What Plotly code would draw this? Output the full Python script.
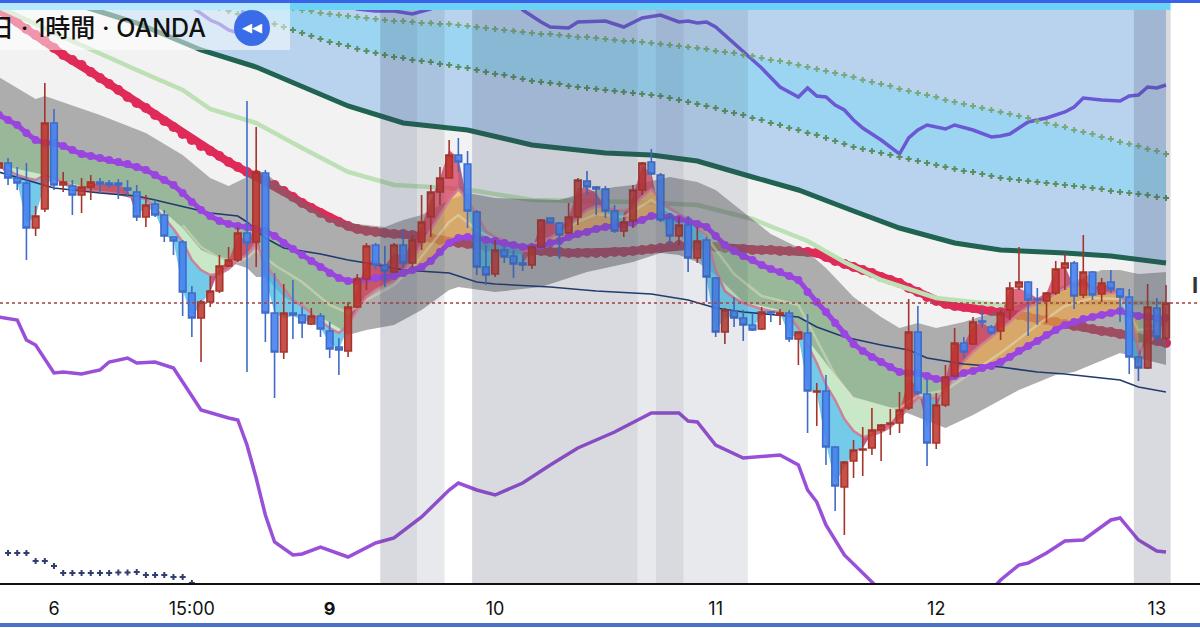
import plotly.graph_objects as go

# hourly bars, bar 0 is the "6" tick
bars = list(range(-6, 122))
tick_bars = [0, 15, 30, 48, 72, 96, 120]
tick_labels = ["6", "15:00", "<b>9</b>", "10", "11", "12", "13"]

bar_high = [470,470,461,465,422,545,519,456,448,450,453,450,448,449,448,443,433,428,418,391,388,342,328,352,373,381,401,527,501,458,355,344,348,321,320,315,306,290,326,354,385,385,382,385,398,393,433,443,461,488,490,477,418,383,388,381,378,373,383,409,410,406,425,450,457,442,442,423,411,443,466,479,455,415,411,412,401,391,351,320,331,318,315,321,317,319,318,296,314,245,253,182,167,188,201,220,204,219,236,329,322,249,235,263,300,291,311,318,303,318,346,381,347,340,336,367,375,367,393,357,350,358,340,339,272,344,330,343]
bar_open = [460,465,450,445,400,419,505,443,442,433,441,446,445,445,440,436,411,424,413,391,386,335,310,326,337,362,368,395,386,455,315,276,315,313,304,312,297,281,277,321,349,383,363,356,383,365,386,411,436,450,473,464,416,361,354,378,372,365,363,381,410,405,395,411,447,441,439,417,397,407,438,466,453,410,392,403,370,388,350,296,317,310,303,299,316,313,315,289,295,236,237,181,141,167,178,180,198,204,205,220,296,234,185,223,252,285,284,307,301,297,318,341,346,329,327,335,360,365,333,356,334,346,339,331,271,260,320,290]
bar_close = [465,450,445,400,412,505,443,446,433,441,446,444,443,443,438,411,423,413,392,387,336,310,326,337,362,368,395,385,456,315,276,315,313,305,312,299,279,278,321,349,382,363,357,383,365,388,406,436,450,473,466,417,361,353,378,371,364,363,381,408,405,393,411,448,441,439,417,397,406,438,465,454,408,392,403,370,387,351,296,318,310,303,298,316,315,315,289,296,237,237,181,142,166,178,179,198,203,205,218,296,235,185,223,251,285,276,306,306,295,315,340,346,328,328,335,359,365,332,356,333,345,339,331,271,260,321,291,325]
bar_low = [450,443,438,368,392,416,438,436,413,415,428,435,440,429,431,407,401,411,386,373,312,291,266,321,335,361,366,256,361,286,230,269,289,290,303,291,270,253,271,320,338,358,341,355,360,361,378,391,423,450,456,400,353,343,351,365,350,357,359,381,405,369,395,403,433,413,410,395,391,400,433,453,406,384,383,356,365,326,291,284,301,287,297,298,306,303,286,263,195,202,163,117,93,150,152,173,167,193,195,218,233,162,179,221,250,270,283,300,293,288,308,338,292,303,305,333,338,319,330,328,326,335,306,254,247,259,285,288]

# short average that the cloud is filled up to
fast_line = [463,452,446,405,412,445,448,445,436,440,444,445,444,443,439,412,422,415,393,388,338,311,324,336,360,367,392,388,400,350,315,310,312,308,306,300,285,279,300,340,365,368,362,375,372,385,402,428,450,478,470,425,362,355,372,372,366,364,378,405,410,398,410,440,440,435,420,400,402,432,462,455,410,395,400,375,380,350,298,310,312,305,300,312,315,315,292,292,240,235,185,145,160,176,180,195,203,205,216,250,240,200,218,248,285,283,302,306,298,312,338,340,335,330,335,358,362,340,350,340,344,342,333,275,262,310,295,320]
rim_line = [463,458,453,450,448,453,450,446,442,439,437,436,435,434,432,430,429,420,410,399,386,368,358,353,354,359,368,373,385,363,351,339,328,322,315,307,300,295,303,318,331,338,343,347,358,368,383,398,413,428,439,428,413,397,391,387,383,377,378,387,390,396,402,410,418,422,421,418,417,421,431,439,428,420,414,409,401,392,358,337,330,325,322,319,317,316,312,300,283,265,243,228,209,197,191,193,196,201,210,220,230,230,230,236,253,266,276,284,291,299,306,315,321,325,328,335,340,344,341,338,335,335,336,318,278,283,295,305]
purple_ema = [513,508,503,495,488,485,485,482,478,474,472,470,468,466,464,461,458,453,448,443,435,426,418,412,407,404,402,401,399,397,392,385,379,373,367,361,355,350,347,347,349,350,351,352,355,358,361,367,376,385,390,391,390,388,387,385,383,381,381,382,385,387,391,394,396,399,401,402,403,405,408,412,412,411,409,407,404,401,392,383,377,372,368,363,359,356,352,348,336,326,316,305,294,284,277,271,266,261,256,255,255,252,249,248,252,255,257,260,262,266,271,277,282,287,293,298,303,306,309,311,313,315,317,314,312,311,310,310]
crimson_ema = [618,612,606,599,593,587,580,573,568,563,556,550,544,538,531,525,520,513,507,501,494,488,482,477,472,466,461,456,453,448,443,437,431,425,420,415,410,406,402,399,397,396,395,394,394,393,392,390,388,386,385,384,383,381,380,379,378,378,377,377,376,376,375,375,375,375,375,376,376,377,378,379,380,382,383,383,383,382,381,380,379,379,378,378,378,377,377,377,376,375,371,367,364,361,358,355,351,348,345,340,336,331,327,324,322,321,320,318,317,316,314,313,311,309,308,306,304,302,301,299,297,296,294,292,290,289,287,285]

# green + dotted lines on the upper band, last point is bar 121
upper_dots = [636,634,632,630,628,626,624,623,621,620,618,617,615,614,613,612,611,610,609,608,607,607,606,605,605,604,604,603,602,601,600,599,598,597,596,595,594,594,593,592,591,591,590,589,588,587,587,586,585,584,583,582,581,580,579,577,576,575,573,572,570,568,567,565,563,561,559,557,555,553,551,548,546,544,542,539,537,535,533,531,528,526,524,522,520,518,516,514,512,510,507,505,503,501,498,496,494,491,489,486,484,482,479,477,474]
lower_dots = [623,620,617,614,612,609,607,604,601,598,595,592,589,586,584,582,579,577,575,573,571,570,568,567,566,564,563,561,560,558,556,554,553,551,549,547,546,545,544,542,541,540,539,538,537,536,535,534,533,532,530,528,526,524,522,520,517,515,513,510,508,505,503,500,498,495,493,490,487,484,481,479,477,475,473,471,469,467,465,463,461,459,457,456,454,452,450,449,448,447,446,445,444,443,442,441,440,439,437,436,435,434,433,431,430]
navy_dots = [75,75,75,67,67,62,55,55,55,55,55,55,55.5,55.5,56,53,53,53,51,51,45]

long_x = [-6,2,9,16,22,32,38,45,52,60,65,70,76,81,87,92,98,103,110,115,121]
long_y = [650,625,605,578,561,522,505,498,483,475,473,467,451,438,417,400,385,378,375,372,365]
pale_x = [-6,1,9,14,17,22,27,32,37,43,46,52,63,70,76,79,82,86,90,96,103,110,117,121]
pale_y = [621,591,558,538,519,505,480,456,443,440,437,428,426,423,409,398,387,366,348,330,323,325,325,325]
navy_x = [-6,-2,0,5,9,11,17,20,21,23,25,29,32,34,38,43,46,48,54,59,65,69,72,75,79,81,83,86,90,93,95,99,103,107,110,116,118,121]
navy_y = [456,445,440,435,432,428,415,412,406,390,380,374,368,365,358,355,346,344,341,337,334,328,320,316,313,311,301,291,283,278,270,264,261,256,254,248,241,236]
mid_x = [14,16,18,20,21,22,24,27,30,32,34,37,39,41,43,44,46,48,51,54,57,59,62,65,67,70,72,74,77,81,83,85,87,90,92,94,97,99,103,107,110,113,116,118,121]
mid_y = [403,381,370,366,370,378,363,346,323,315,328,343,360,383,406,413,398,388,380,390,406,414,411,428,416,403,378,354,332,323,288,253,228,218,220,232,238,250,275,303,322,330,329,298,301]

slow_purple_x = [-6,-4,-3,-2,0,1,3,5,6,8,9,11,13,15,16,19,20,21,22,23,24,26,27,29,32,35,37,40,43,44,46,48,51,54,57,61,65,68,69,70,72,75,79,81,82,83,84,86,89,91,100,102,103,105,106,108,110,112,115,116,118,119,120,121]
slow_purple_y = [311,308,288,283,255,256,254,258,266,270,265,266,260,231,218,210,208,183,150,113,86,73,74,81,71,85,90,111,138,145,138,133,145,163,180,196,215,215,207,206,183,170,173,163,138,126,103,73,46,28,28,38,48,63,65,75,87,88,108,110,88,82,77,76]
top_purple_x = [13,14,15,16,17,18,19,20,21,30,31,32,33,35,37,39,41,42,43,50,51,53,54,56,57,60,62,64,66,68,69,70,71,72,74,76,77,79,81,82,83,84,85,86,87,88,90,92,93,94,95,97,98,100,102,103,104,106,107,108,110,111,112,114,116,117,118,119,120,121]
top_purple_y = [633,626,621,614,608,604,598,595,636,636,626,622,619,617,617,614,619,625,634,633,618,606,601,600,606,607,601,610,613,606,607,605,606,601,585,568,560,541,531,540,532,531,523,518,508,500,488,474,490,498,503,499,503,498,491,492,494,506,508,510,516,521,530,528,527,532,533,541,540,543]

cloud_top_x = [-6,-2,-1,5,10,14,17,19,21,22,23,26,30,33,36,38,40,43,45,48,55,58,61,63,67,70,72,75,78,82,84,87,90,92,94,96,99,103,107,110,114,116,118,121]
cloud_top_y = [551,529,532,513,495,473,450,442,451,457,455,433,410,404,401,408,413,428,435,430,428,436,441,443,451,446,438,416,394,376,360,331,311,300,305,300,306,318,328,343,358,358,354,356]
cloud_low_x = [-6,-1,5,10,12,14,16,19,21,22,23,25,28,31,32,34,37,40,43,44,48,53,58,63,66,68,70,72,75,79,82,85,87,92,94,97,100,102,105,109,111,116,118,121]
cloud_low_y = [463,453,436,428,416,400,378,366,360,351,351,331,316,300,293,298,303,318,338,341,336,341,356,366,375,373,366,353,326,318,288,253,231,218,211,200,213,223,238,253,256,275,270,263]

# session shading, in bars
dark_sessions = [(35.5, 39.5), (45.5, 63.5), (65.5, 68.5), (117.5, 121.5)]
light_sessions = [(39.5, 42.5), (63.5, 65.5), (68.5, 75.5)]
last_price = 325
band_top = 618

assert len(bar_high) == len(bar_open) == len(bar_close) == len(bar_low) == len(bars)
assert len(fast_line) == len(rim_line) == len(purple_ema) == len(crimson_ema) == len(bars)


def polygon(x1, y1, x2, y2, color):
    fig.add_trace(go.Scatter(x=x1 + x2[::-1], y=y1 + y2[::-1], mode="lines", fill="toself",
                             fillcolor=color, line=dict(width=0), hoverinfo="skip"))


def fill_where_above(a, b, color):
    # one polygon for each run of bars where a is above b
    start = None
    for i in range(len(bars) + 1):
        above = i < len(bars) and a[i] >= b[i]
        if above and start is None:
            start = max(i - 1, 0)
        if not above and start is not None:
            end = min(i + 1, len(bars))
            polygon(bars[start:end], a[start:end], bars[start:end], b[start:end], color)
            start = None


def line(x, y, color, width):
    fig.add_trace(go.Scatter(x=x, y=y, mode="lines", line=dict(color=color, width=width), hoverinfo="skip"))


fig = go.Figure()

# backdrop
blue_x = [v for v in long_x if v >= 2]
blue_y = long_y[-len(blue_x):]
polygon(blue_x, blue_y, blue_x, [band_top] * len(blue_x), "#b9d3ef")
upper_x = bars[-len(upper_dots):]
lower_x = bars[-len(lower_dots):]
polygon(upper_x, upper_dots, lower_x, lower_dots, "#9cd5f1")
polygon(long_x, long_y, cloud_top_x, cloud_top_y, "#f2f2f3")

fig.add_trace(go.Scatter(x=bars, y=crimson_ema, mode="lines+markers", line=dict(color="#e02a58", width=8),
                         marker=dict(color="#e02a58", size=10), hoverinfo="skip"))
line(pale_x, pale_y, "#bde0b5", 4.5)

# grey cloud sits over the crimson line and darkens it
polygon(cloud_top_x, cloud_top_y, cloud_low_x, cloud_low_y, "rgba(105,105,108,0.55)")

fill_where_above(purple_ema, rim_line, "rgba(125,200,125,0.42)")
fill_where_above(rim_line, purple_ema, "rgba(245,165,60,0.6)")
fill_where_above(rim_line, fast_line, "rgba(70,185,225,0.75)")
fill_where_above(fast_line, rim_line, "rgba(215,50,85,0.72)")

line(mid_x, mid_y, "rgba(225,225,190,0.5)", 2.5)
line(bars, rim_line, "rgba(205,125,150,0.95)", 2.5)
line(navy_x, navy_y, "#1f3a6e", 1.6)

fig.add_trace(go.Scatter(x=bars, y=purple_ema, mode="lines+markers", line=dict(color="#9a45e0", width=5),
                         marker=dict(color="#9a45e0", size=8), hoverinfo="skip"))

line(long_x, long_y, "#1f6350", 5)
line(slow_purple_x, slow_purple_y, "#9a4fd8", 3.5)
line(top_purple_x, top_purple_y, "#6a58d4", 3.5)
for x, y, color in [(upper_x, upper_dots, "#78a87c"), (lower_x, lower_dots, "#5a8f62"),
                    (bars[1:1 + len(navy_dots)], navy_dots, "#2f3e6e")]:
    fig.add_trace(go.Scatter(x=x, y=y, mode="markers", marker=dict(symbol="cross", size=5, color=color),
                             hoverinfo="skip"))

# box traces go under scatter traces on one subplot, so the candles get their own overlay axes
fig.add_trace(go.Candlestick(x=bars, open=bar_open, high=bar_high, low=bar_low, close=bar_close,
                             xaxis="x2", yaxis="y2", whiskerwidth=0, hoverinfo="skip",
                             increasing=dict(line=dict(color="#a5342c", width=1.6), fillcolor="rgba(190,50,45,0.85)"),
                             decreasing=dict(line=dict(color="#3f6cc8", width=1.6), fillcolor="rgba(70,130,240,0.9)")))

shapes = []
for x0, x1 in dark_sessions:
    shapes.append(dict(type="rect", xref="x", yref="y", x0=x0, x1=x1, y0=45, y1=band_top, layer="above",
                       fillcolor="rgba(60,70,100,0.2)", line_width=0))
for x0, x1 in light_sessions:
    shapes.append(dict(type="rect", xref="x", yref="y", x0=x0, x1=x1, y0=45, y1=band_top, layer="above",
                       fillcolor="rgba(60,70,100,0.12)", line_width=0))
shapes += [
    dict(type="line", xref="paper", yref="y", x0=0, x1=1, y0=last_price, y1=last_price, layer="above",
         line=dict(color="#a04040", width=1.4, dash="dot")),
    dict(type="rect", xref="x", yref="y", x0=-6, x1=121.5, y0=band_top, y1=625, layer="above",
         fillcolor="#6cd3f6", line_width=0),
    dict(type="rect", xref="paper", yref="paper", x0=0, x1=290 / 1200, y0=1 - 50 / 628, y1=1, layer="above",
         fillcolor="rgba(255,255,255,0.5)", line_width=0),
    dict(type="circle", xref="paper", yref="paper", x0=234 / 1200, x1=270 / 1200, y0=1 - 46 / 628, y1=1 - 10 / 628,
         layer="above", fillcolor="#3b6ce8", line_width=0),
    dict(type="rect", xref="paper", yref="paper", x0=0, x1=1, y0=1 - 3 / 628, y1=1, layer="above",
         fillcolor="#3a62e6", line_width=0),
    dict(type="rect", xref="paper", yref="paper", x0=0, x1=1, y0=1 / 628, y1=5 / 628, layer="above",
         fillcolor="#4a72c8", line_width=0),
]

x_range = [-5.876, 124.7]
y_range = [45, 628]
fig.update_layout(
    width=1200, height=628, margin=dict(l=0, r=0, t=0, b=0),
    paper_bgcolor="white", plot_bgcolor="white", showlegend=False, shapes=shapes,
    boxgap=0.2, boxgroupgap=0.1,
    font=dict(family="Inter", color="#111111"),
    annotations=[
        dict(text="日\u00a0·\u00a01時間\u00a0·\u00a0OANDA", xref="paper", yref="paper", x=208 / 1200, y=1 - 28 / 628,
             xanchor="right", yanchor="middle", showarrow=False,
             font=dict(family="Inter, Noto Sans CJK JP", size=25, color="#111111", weight=500)),
        dict(text="◀◀", xref="paper", yref="paper", x=252 / 1200, y=1 - 28 / 628, xanchor="center", yanchor="middle",
             showarrow=False, font=dict(family="DejaVu Sans", size=13, color="white")),
        dict(text="I", xref="paper", yref="paper", x=1, y=1 - 285 / 628, xanchor="right", yanchor="middle",
             showarrow=False, font=dict(family="Inter", size=22, color="#333333", weight=700)),
    ],
    xaxis=dict(range=x_range, showgrid=False, zeroline=False,
               tickvals=tick_bars, ticktext=tick_labels, tickfont=dict(size=18, family="Inter", color="#111111"),
               ticks="outside", ticklen=8, tickcolor="rgba(0,0,0,0)", showline=True, linecolor="#111111", linewidth=2),
    yaxis=dict(range=y_range, domain=[45 / 628, 1], visible=False),
    xaxis2=dict(range=x_range, overlaying="x", anchor="y2", visible=False, rangeslider=dict(visible=False)),
    yaxis2=dict(range=y_range, overlaying="y", anchor="x2", visible=False),
)

fig.write_html("out.html", config=dict(displayModeBar=False), post_script="document.body.style.margin='0';")
